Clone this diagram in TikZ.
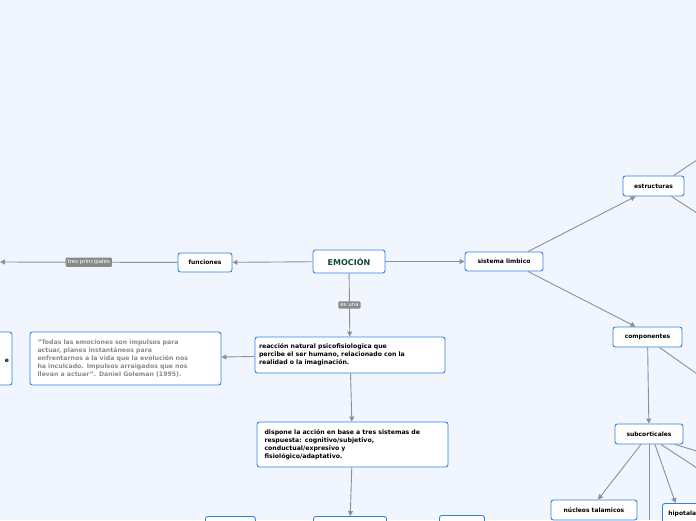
\documentclass[tikz,border=0pt]{standalone}
\usepackage{fontspec}
\setmainfont{DejaVu Sans}
\usetikzlibrary{arrows.meta}
\definecolor{bg}{HTML}{F1F5FE}
\definecolor{bd}{HTML}{2B83E8}
\definecolor{ln}{HTML}{8C9099}
\definecolor{lb}{HTML}{8A8A8A}
\definecolor{dg}{HTML}{0E4A2E}
\tikzset{
 box/.style={draw=bd,line width=0.9pt,fill=white,rounded corners=2.5pt,font=\fontsize{6}{7.5}\selectfont\bfseries,inner sep=3pt},
 tbox/.style={box,align=left,font=\fontsize{6.2}{8}\selectfont\bfseries},
 con/.style={draw=ln,line width=0.9pt,-{Triangle[length=5pt,width=5pt]}},
 plain/.style={draw=ln,line width=0.9pt},
 lab/.style={fill=lb,text=white,font=\fontsize{5.5}{6.5}\selectfont,inner sep=2pt,rounded corners=1pt}
}
\begin{document}
\begin{tikzpicture}[x=1pt,y=-1pt]
\fill[bg] (0,0) rectangle (696,520);
\useasboundingbox (0,0) rectangle (696,520);
\clip (0,0) rectangle (696,520);
\node[box,minimum width=72pt,minimum height=23pt,font=\fontsize{8}{9}\selectfont\bfseries,text=dg] (emo) at (349,261.5) {EMOCIÓN};
\node[box,minimum width=54pt,minimum height=19pt] (fun) at (205,262.5) {funciones};
\node[box,minimum width=78pt,minimum height=19pt] (sl) at (504,261.5) {sistema limbico};
\node[tbox,minimum width=190pt,minimum height=36pt,text width=182pt] (rea) at (350,355) {reacción natural psicofisiologica que\\percibe el ser humano, relacionado con la\\realidad o la imaginación.};
\node[tbox,minimum width=191pt,minimum height=53pt,text width=176pt,text=lb] (quo) at (125.5,358.5) {"Todas las emociones son impulsos para\\actuar, planes instantáneos para\\enfrentarnos a la vida que la evolución nos\\ha inculcado. Impulsos arraigados que nos\\llevan a actuar". Daniel Goleman (1995).};
\node[box,minimum width=72pt,minimum height=53pt,align=right,text width=66pt] (lft) at (-24,358.5) {\\e\\ };
\node[tbox,minimum width=191pt,minimum height=45pt,text width=176pt] (dis) at (352.5,444.5) {dispone la acción en base a tres sistemas de\\respuesta: cognitivo/subjetivo,\\conductual/expresivo y\\fisiológico/adaptativo.};
\node[box,minimum width=50pt,minimum height=20pt,anchor=north west] (b1) at (205,516) {};
\node[box,minimum width=73pt,minimum height=20pt,anchor=north west] (b2) at (313,516) {};
\node[box,minimum width=45pt,minimum height=20pt,anchor=north west] (b3) at (439,515) {};
\node[box,minimum width=61pt,minimum height=20pt] (est) at (653.5,186) {estructuras};
\node[box,minimum width=69pt,minimum height=20pt] (com) at (647.5,337) {componentes};
\node[box,minimum width=68pt,minimum height=20pt] (sub) at (649,434) {subcorticales};
\node[box,minimum width=86pt,minimum height=20pt] (nuc) at (594,510) {núcleos talamicos};
\node[box,minimum width=50pt,minimum height=20pt,anchor=north west,align=left] (hip) at (662,503) {hipotalamo};
\coordinate (lend) at (0,262);
\coordinate (e1) at (700,158);
\coordinate (e2) at (700,215);
\coordinate (c1) at (700,376);
\coordinate (s1) at (649,520);
\coordinate (s2) at (700,452);
\coordinate (s3) at (700,470);
\draw[con] (emo) -- (fun);
\draw[con] (fun) -- node[lab]{tres principales} (lend);
\draw[con] (emo) -- (sl);
\draw[con] (emo) -- node[lab]{es una} (rea);
\draw[con] (rea) -- (quo);
\draw[con] (rea) -- (dis);
\draw[con] (dis) -- (b2);
\draw[con] ([xshift=24pt]sl.north) -- ([xshift=-18pt]est.south);
\draw[con] ([xshift=24pt]sl.south) -- ([xshift=-12pt]com.north);
\draw[plain] ([xshift=20pt]est.north) -- (e1);
\draw[plain] ([xshift=18pt]est.south) -- (e2);
\draw[plain] ([xshift=12pt]com.south) -- (c1);
\draw[con] (com) -- (sub);
\draw[con] ([xshift=-8pt]sub.south) -- ([xshift=4pt]nuc.north);
\draw[plain] (sub.south) -- (s1);
\draw[con] ([xshift=6pt]sub.south) -- ([xshift=-12pt]hip.north);
\draw[plain] ([xshift=12pt]sub.south) -- (s3);
\draw[plain] ([xshift=26pt]sub.south) -- (s2);
\end{tikzpicture}
\end{document}
